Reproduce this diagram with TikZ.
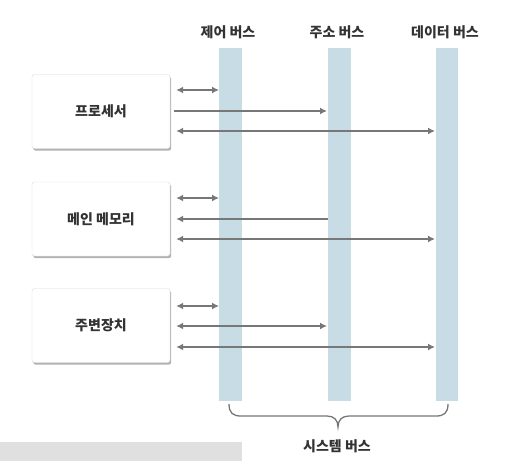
\documentclass[tikz,border=0pt]{standalone}
\usepackage{fontspec}
\setmainfont{Noto Sans CJK KR}
\usetikzlibrary{arrows.meta,shadows}
\definecolor{busblue}{HTML}{C8DCE6}
\definecolor{arrgray}{HTML}{777777}
\definecolor{txt}{HTML}{333333}
\tikzset{
  unit/.style={draw=black!15,fill=white,rounded corners=2.5pt,minimum width=138pt,minimum height=74pt,
    drop shadow={shadow xshift=1.2pt,shadow yshift=-2.2pt,opacity=0.5,fill=black!60},text=txt,font=\fontsize{14}{16}\selectfont\bfseries},
  lbl/.style={text=txt,font=\fontsize{14}{16}\selectfont\bfseries},
  conn/.style={draw=arrgray,line width=1.9pt},
  tip/.tip={Latex[length=7pt,width=7pt]},
  both/.style={conn,tip-tip},
  toright/.style={conn,-tip},
  toleft/.style={conn,tip-},
  bracestyle/.style={draw=arrgray,line width=1.3pt},
}
\begin{document}
\begin{tikzpicture}[x=1pt,y=-1pt]
\useasboundingbox (0,0) rectangle (505,461);
\fill[black!12] (0,442) rectangle (242,461);
% buses
\fill[busblue] (219,48) rectangle (242,401);
\fill[busblue] (328,48) rectangle (351,401);
\fill[busblue] (436,48) rectangle (458,401);
\node[lbl] (lc) at (228,32) {제어 버스};
\node[lbl] (la) at (337,32) {주소 버스};
\node[lbl] (ld) at (445,32) {데이터 버스};
\coordinate (c1) at (219,90);
\coordinate (a1) at (327,111);
\coordinate (d1) at (435,131);
\coordinate (c2) at (219,198);
\coordinate (a2) at (328,219);
\coordinate (d2) at (435,239);
\coordinate (c3) at (219,306);
\coordinate (a3) at (327,326);
\coordinate (d3) at (435,347);
% units
\node[unit] (p) at (101,111.5) {프로세서};
\node[unit] (m) at (101,219) {메인 메모리};
\node[unit] (io) at (101,325.5) {주변장치};
% connectors
\draw[both] (p.east |- c1) ++(6,0) -- (c1);
\draw[toright] (p.east |- a1) ++(4,0) -- (a1);
\draw[both] (p.east |- d1) ++(6,0) -- (d1);
\draw[both] (m.east |- c2) ++(6,0) -- (c2);
\draw[toleft] (m.east |- a2) ++(6,0) -- (a2);
\draw[both] (m.east |- d2) ++(6,0) -- (d2);
\draw[both] (io.east |- c3) ++(6,0) -- (c3);
\draw[both] (io.east |- a3) ++(6,0) -- (a3);
\draw[both] (io.east |- d3) ++(6,0) -- (d3);
% brace
\coordinate (bl) at (229,404);
\coordinate (br) at (448,404);
\coordinate (bt) at (338,427);
\draw[bracestyle] (bl) .. controls (229,413) and (233,416) .. (241,416)
  -- (327,416) .. controls (334,416) and (338,420) .. (bt)
  .. controls (338,420) and (342,416) .. (349,416)
  -- (436,416) .. controls (444,416) and (448,413) .. (br);
\node[lbl] (sys) at (337,446) {시스템 버스};
\end{tikzpicture}
\end{document}
